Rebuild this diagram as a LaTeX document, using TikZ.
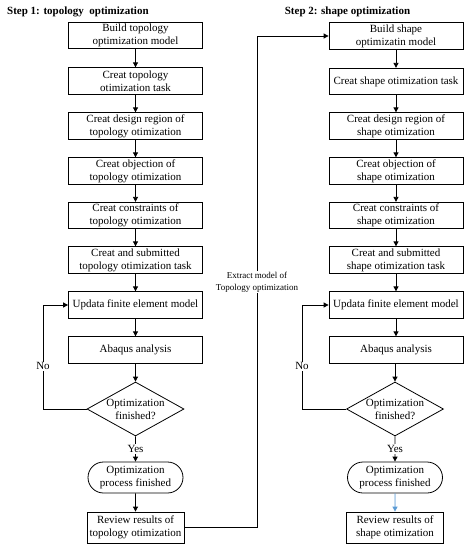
\documentclass[tikz,border=0pt]{standalone}
\usepackage{fontspec}
\setmainfont{Liberation Serif}
\usetikzlibrary{arrows.meta,shapes.geometric,shapes.misc}
\definecolor{arrowblue}{RGB}{91,155,213}
\tikzset{
  box/.style={draw, line width=0.8pt, minimum width=134pt, minimum height=26.5pt, inner sep=1pt, align=center, font=\fontsize{11}{13}\selectfont},
  boxs/.style={draw, line width=0.8pt, minimum width=97pt, minimum height=31pt, inner sep=1pt, align=center, font=\fontsize{11}{13}\selectfont},
  term/.style={rounded rectangle, draw, line width=0.8pt, minimum width=97pt, minimum height=31pt, inner sep=1pt, align=center, font=\fontsize{11}{13}\selectfont},
  dec/.style={diamond, draw, line width=0.8pt, minimum width=97pt, minimum height=54pt, inner sep=0pt, aspect=1.8},
  dectext/.style={align=center, font=\fontsize{11}{13}\selectfont, inner sep=0pt},
  arr/.style={line width=0.8pt, -{Triangle[length=5pt,width=5pt]}},
  lbl/.style={fill=white, inner sep=1pt, font=\fontsize{11}{13}\selectfont},
  title/.style={font=\bfseries\fontsize{11}{13}\selectfont, inner sep=0pt},
}
\begin{document}
\begin{tikzpicture}[x=1pt,y=-1pt]
\useasboundingbox (0,0) rectangle (468,550);
% titles
\node[title, anchor=west] (t1) at (7,12) {Step 1: topology\ \ optimization};
\node[title] (t2) at (347.5,12) {Step 2: shape optimization};
% left column
\node[box] (a1) at (135.5,35.5) {Build topology\\optimization model};
\node[box] (a2) at (135.5,81) {Creat topology\\otimization task};
\node[box] (a3) at (135.5,126) {Creat design region of\\topology otimization};
\node[box] (a4) at (135.5,171) {Creat objection of\\topology otimization};
\node[box] (a5) at (135.5,215.5) {Creat constraints of\\topology otimization};
\node[box] (a6) at (135.5,260) {Creat and submitted\\topology otimization task};
\node[box] (a7) at (135.5,305) {Updata finite element model};
\node[box] (a8) at (135.5,350) {Abaqus analysis};
\node[dec] (a9) at (135.5,409) {};
\node[dectext] (a9t) at (a9.center) {Optimization\\finished?};
\node[term] (a10) at (135.5,477.5) {Optimization\\process finished};
\node[boxs] (a11) at (135.5,527.5) {Review results of\\topology otimization};
% right column
\node[box] (b1) at (396,36) {Build shape\\optimizatin model};
\node[box] (b2) at (396,81.5) {Creat shape otimization task};
\node[box] (b3) at (396,126) {Creat design region of\\shape otimization};
\node[box] (b4) at (396,171) {Creat objection of\\shape otimization};
\node[box] (b5) at (396,215.5) {Creat constraints of\\shape otimization};
\node[box] (b6) at (396,260) {Creat and submitted\\shape otimization task};
\node[box] (b7) at (396,305) {Updata finite element model};
\node[box] (b8) at (396,350) {Abaqus analysis};
\node[dec] (b9) at (395,409) {};
\node[dectext] (b9t) at (b9.center) {Optimization\\finished?};
\node[term] (b10) at (395,477.5) {Optimization\\process finished};
\node[boxs] (b11) at (395,527.5) {Review results of\\shape otimization};
% left arrows
\draw[arr] (a1) -- (a2);
\draw[arr] (a2) -- (a3);
\draw[arr] (a3) -- (a4);
\draw[arr] (a4) -- (a5);
\draw[arr] (a5) -- (a6);
\draw[arr] (a6) -- (a7);
\draw[arr] (a7) -- (a8);
\draw[arr] (a8) -- (a9);
\draw[arr] (a9) -- node[lbl, pos=0.5] {Yes} (a10);
\draw[arr] (a10) -- (a11);
\coordinate (an) at (43,409);
\draw[arr] (a9.west) -- (an) -- node[lbl, pos=0.41] {No} (an |- a7.west) -- (a7.west);
% right arrows
\draw[arr] (b1) -- (b2);
\draw[arr] (b2) -- (b3);
\draw[arr] (b3) -- (b4);
\draw[arr] (b4) -- (b5);
\draw[arr] (b5) -- (b6);
\draw[arr] (b6) -- (b7);
\draw[arr] (b7) -- (b8);
\draw[arr] (b8.south -| b9.north) -- (b9);
\draw[arr] (b9) -- node[lbl, pos=0.5] {Yes} (b10);
\draw[arr, draw=arrowblue, fill=arrowblue] (b10) -- (b11);
\coordinate (bn) at (302,409);
\draw[arr] (b9.west) -- (bn) -- node[lbl, pos=0.41] {No} (bn |- b7.west) -- (b7.west);
% extract connector
\coordinate (ex) at (257,527.5);
\draw[arr] (a11.east) -- (ex) -- (ex |- b1.west) -- (b1.west);
\node[fill=white, inner sep=1pt, align=center, font=\fontsize{9}{12}\selectfont] (exl) at (257,282) {Extract model of\\Topology optimization};
\end{tikzpicture}
\end{document}
